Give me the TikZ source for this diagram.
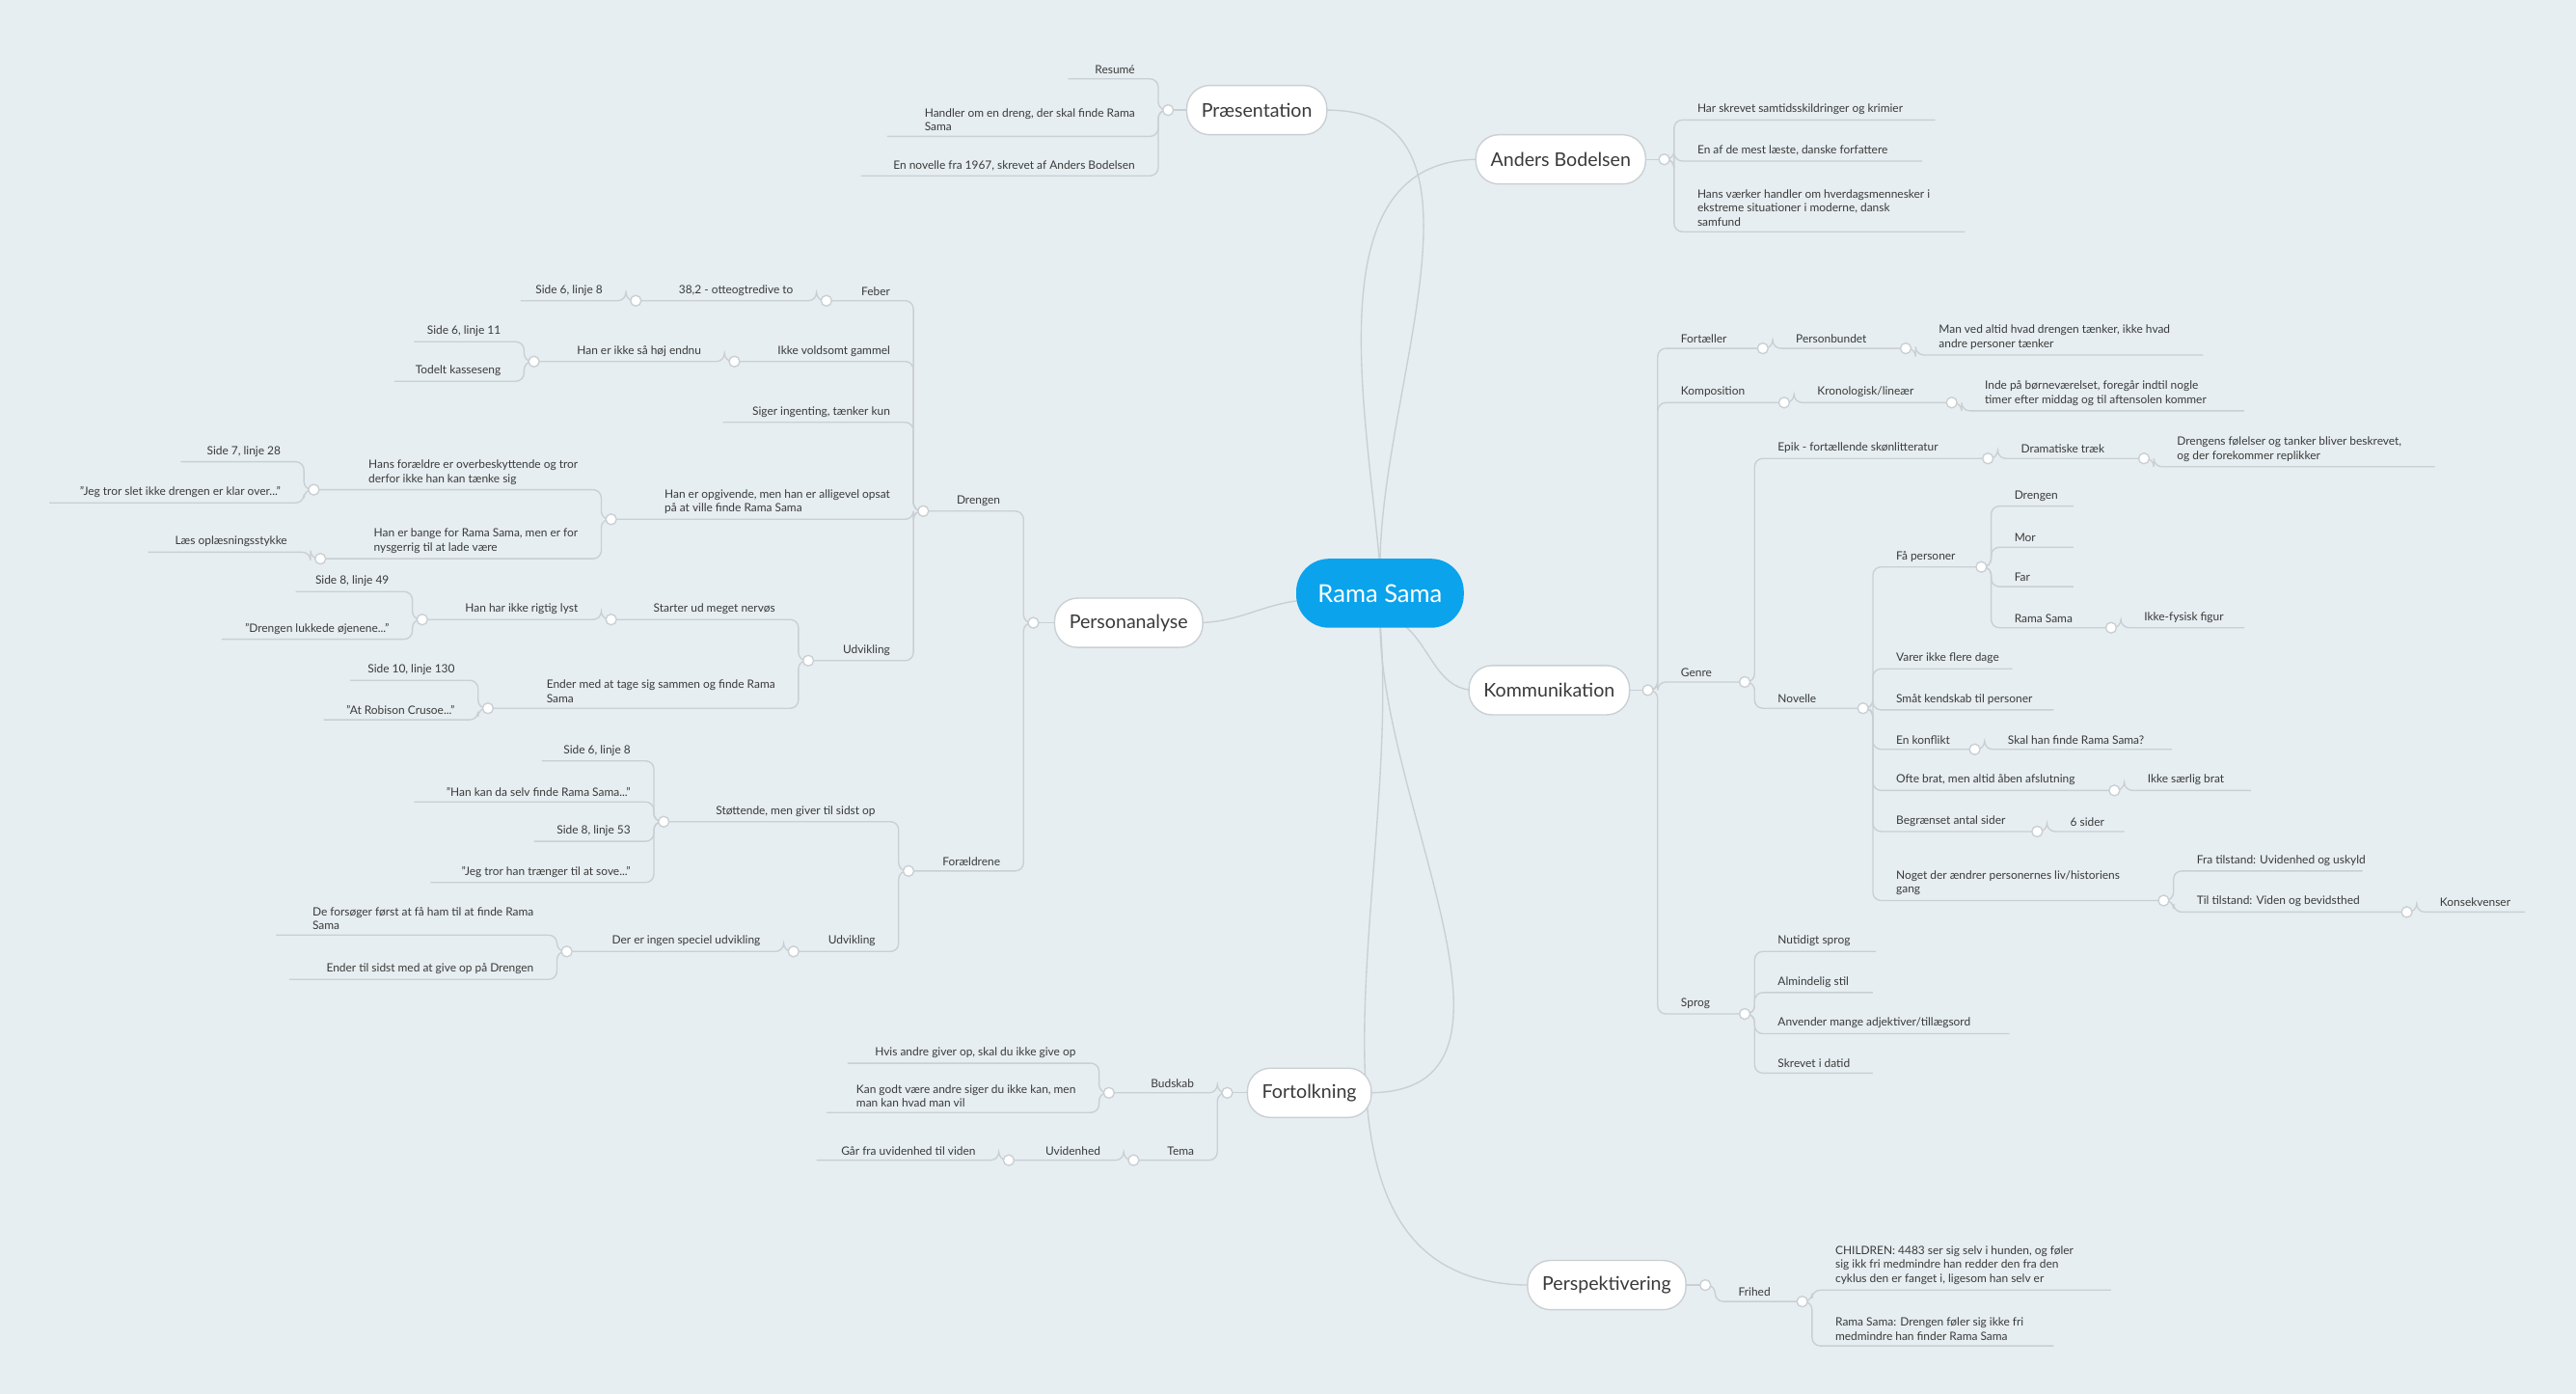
\documentclass[tikz,border=0pt]{standalone}
\usepackage{fontspec}
\setmainfont{Lato}
\definecolor{bg}{HTML}{E7EEF1}
\definecolor{lc}{HTML}{C9CFD3}
\definecolor{tc}{HTML}{3A3A3A}
\definecolor{blue}{HTML}{0BA3EC}
\tikzset{
 ln/.style={draw=lc,line width=0.8pt,rounded corners=5},
 lbl/.style={inner sep=0pt,font=\fontsize{7}{8.6}\selectfont,text=tc,align=left},
 pill/.style={draw=lc,line width=0.8pt,fill=white,rounded corners=14pt,minimum height=30pt,inner xsep=9pt,font=\fontsize{11.5}{13}\selectfont,text=tc},
 dot/.style={circle,draw=lc,line width=0.8pt,fill=white,inner sep=0pt,minimum size=6.5pt}
}
\newcommand\BR[5]{\draw[ln] (#2) -- ++(6,0) |- (#3,#4) coordinate (#1c); \path (#2) ++(20,0) coordinate (#1t); \node[lbl,anchor=south west] (#1) at (#1t |- 0,#4-3) {#5};}
\newcommand\BL[5]{\draw[ln] (#2) -- ++(-6,0) |- (#3,#4) coordinate (#1c); \path (#2) ++(-20,0) coordinate (#1t); \node[lbl,anchor=south east] (#1) at (#1t |- 0,#4-3) {#5};}
\begin{document}
\begin{tikzpicture}[x=1pt,y=-1pt]
\fill[bg] (0,0) rectangle (1568,848);
\useasboundingbox (0,0) rectangle (1568,848);
% main nodes coordinates
\coordinate (rootc) at (840,361);
\coordinate (anc) at (1013,97);
\coordinate (koc) at (1003,420);
\coordinate (pec) at (1038,782);
\coordinate (prc) at (711,67);
\coordinate (pac) at (629,379);
\coordinate (foc) at (747,665);
% main connectors
\draw[ln] (840,345) to[out=95,in=180] (900,97);
\draw[ln] (845,375) to[out=-20,in=180] (898,420);
\draw[ln] (840,378) to[out=-85,in=180] (932,782);
\draw[ln] (840,345) to[out=90,in=0] (808,67);
\draw[ln] (800,365) to[out=180,in=0] (728,379);
\draw[ln] (840,378) to[out=-90,in=0] (833,665);
\draw[ln] (999,97) -- (anc); \draw[ln] (990,420) -- (koc); \draw[ln] (1025,782) -- (pec);
\draw[ln] (722,67) -- (prc); \draw[ln] (646,379) -- (pac); \draw[ln] (760,665) -- (foc);
% Anders Bodelsen
\BR{a1}{anc}{1178}{73}{Har skrevet samtidsskildringer og krimier}
\BR{a2}{anc}{1170}{98}{En af de mest læste, danske forfattere}
\BR{a3}{anc}{1196}{141}{Hans værker handler om hverdagsmennesker i\\ekstreme situationer i moderne, dansk\\samfund}
% Kommunikation
\BR{k1}{koc}{1073}{212}{Fortæller}
\BR{k11}{k1c}{1160}{212}{Personbundet}
\BR{k111}{k11c}{1341}{216}{Man ved altid hvad drengen tænker, ikke hvad\\andre personer tænker}
\BR{k2}{koc}{1086}{245}{Komposition}
\BR{k21}{k2c}{1188}{245}{Kronologisk/lineær}
\BR{k211}{k21c}{1366}{250}{Inde på børneværelset, foregår indtil nogle\\timer efter middag og til aftensolen kommer}
\BR{k3}{koc}{1062}{415}{Genre}
\BR{k31}{k3c}{1210}{279}{Epik - fortællende skønlitteratur}
\BR{k311}{k31c}{1305}{279}{Dramatiske træk}
\BR{k3111}{k311c}{1482}{284}{Drengens følelser og tanker bliver beskrevet,\\og der forekommer replikker}
\BR{k32}{k3c}{1134}{431}{Novelle}
\BR{n1}{k32c}{1206}{345}{Få personer}
\BR{n11}{n1c}{1262}{308}{Drengen}
\BR{n12}{n1c}{1262}{333}{Mor}
\BR{n13}{n1c}{1262}{357}{Far}
\BR{n14}{n1c}{1285}{382}{Rama Sama}
\BR{n141}{n14c}{1366}{382}{Ikke-fysisk figur}
\BR{n2}{k32c}{1225}{407}{Varer ikke flere dage}
\BR{n3}{k32c}{1250}{432}{Småt kendskab til personer}
\BR{n4}{k32c}{1202}{456}{En konflikt}
\BR{n41}{n4c}{1322}{456}{Skal han finde Rama Sama?}
\BR{n5}{k32c}{1287}{481}{Ofte brat, men altid åben afslutning}
\BR{n51}{n5c}{1370}{481}{Ikke særlig brat}
\BR{n6}{k32c}{1240}{506}{Begrænset antal sider}
\BR{n61}{n6c}{1293}{506}{6 sider}
\BR{n7}{k32c}{1317}{548}{Noget der ændrer personernes liv/historiens\\gang}
\BR{n71}{n7c}{1438}{530}{Fra tilstand: Uvidenhed og uskyld}
\BR{n72}{n7c}{1465}{555}{Til tilstand: Viden og bevidsthed}
\BR{n721}{n72c}{1537}{555}{Konsekvenser}
\BR{k4}{koc}{1062}{617}{Sprog}
\BR{s1}{k4c}{1142}{579}{Nutidigt sprog}
\BR{s2}{k4c}{1140}{604}{Almindelig stil}
\BR{s3}{k4c}{1223}{629}{Anvender mange adjektiver/tillægsord}
\BR{s4}{k4c}{1140}{653}{Skrevet i datid}
% Perspektivering
\BR{p1}{pec}{1097}{792}{Frihed}
\BR{p11}{p1c}{1285}{785}{CHILDREN: 4483 ser sig selv i hunden, og føler\\sig ikk fri medmindre han redder den fra den\\cyklus den er fanget i, ligesom han selv er}
\BR{p12}{p1c}{1250}{819}{Rama Sama: Drengen føler sig ikke fri\\medmindre han finder Rama Sama}
% Præsentation
\BL{r1}{prc}{650}{48}{Resumé}
\BL{r2}{prc}{540}{83}{Handler om en dreng, der skal finde Rama\\Sama}
\BL{r3}{prc}{524}{107}{En novelle fra 1967, skrevet af Anders Bodelsen}
% Personanalyse
\BL{d}{pac}{562}{311}{Drengen}
\BL{d1}{dc}{503}{183}{Feber}
\BL{d11}{d1c}{387}{183}{38,2 - otteogtredive to}
\BL{d111}{d11c}{317}{183}{Side 6, linje 8}
\BL{d2}{dc}{447}{220}{Ikke voldsomt gammel}
\BL{d21}{d2c}{325}{220}{Han er ikke så høj endnu}
\BL{d211}{d21c}{252}{208}{Side 6, linje 11}
\BL{d212}{d21c}{240}{232}{Todelt kasseseng}
\BL{d3}{dc}{440}{257}{Siger ingenting, tænker kun}
\BL{d4}{dc}{372}{316}{Han er opgivende, men han er alligevel opsat\\på at ville finde Rama Sama}
\BL{d41}{d4c}{191}{298}{Hans forældre er overbeskyttende og tror\\derfor ikke han kan tænke sig}
\BL{d411}{d41c}{110}{281}{Side 7, linje 28}
\BL{d412}{d41c}{30}{306}{"Jeg tror slet ikke drengen er klar over..."}
\BL{d42}{d4c}{195}{340}{Han er bange for Rama Sama, men er for\\nysgerrig til at lade være}
\BL{d421}{d42c}{90}{336}{Læs oplæsningsstykke}
\BL{d5}{dc}{492}{402}{Udvikling}
\BL{d51}{d5c}{372}{377}{Starter ud meget nervøs}
\BL{d511}{d51c}{257}{377}{Han har ikke rigtig lyst}
\BL{d5111}{d511c}{180}{360}{Side 8, linje 49}
\BL{d5112}{d511c}{135}{389}{"Drengen lukkede øjenene..."}
\BL{d52}{d5c}{297}{431}{Ender med at tage sig sammen og finde Rama\\Sama}
\BL{d521}{d52c}{213}{414}{Side 10, linje 130}
\BL{d522}{d52c}{197}{438}{"At Robison Crusoe..."}
\BL{f}{pac}{553}{530}{Forældrene}
\BL{f1}{fc}{404}{500}{Støttende, men giver til sidst op}
\BL{f11}{f1c}{330}{463}{Side 6, linje 8}
\BL{f12}{f1c}{252}{488}{"Han kan da selv finde Rama Sama..."}
\BL{f13}{f1c}{325}{512}{Side 8, linje 53}
\BL{f14}{f1c}{262}{537}{"Jeg tror han trænger til at sove..."}
\BL{f2}{fc}{483}{579}{Udvikling}
\BL{f21}{f2c}{345}{579}{Der er ingen speciel udvikling}
\BL{f211}{f21c}{168}{569}{De forsøger først at få ham til at finde Rama\\Sama}
\BL{f212}{f21c}{176}{596}{Ender til sidst med at give op på Drengen}
% Fortolkning
\BL{o1}{foc}{675}{665}{Budskab}
\BL{o11}{o1c}{516}{647}{Hvis andre giver op, skal du ikke give op}
\BL{o12}{o1c}{503}{677}{Kan godt være andre siger du ikke kan, men\\man kan hvad man vil}
\BL{o2}{foc}{690}{706}{Tema}
\BL{o21}{o2c}{614}{706}{Uvidenhed}
\BL{o211}{o21c}{497}{706}{Går fra uvidenhed til viden}
% dots
\foreach \n in {anc,koc,pec,prc,pac,foc,k1c,k11c,k2c,k21c,k3c,k31c,k311c,k32c,n1c,n14c,n4c,n5c,n6c,n7c,n72c,k4c,p1c,dc,d1c,d11c,d2c,d21c,d4c,d41c,d42c,d5c,d51c,d511c,d52c,fc,f1c,f2c,f21c,o1c,o2c,o21c}
  \node[dot] at (\n) {};
% main nodes
\node[pill] (an) at (950,97) {Anders Bodelsen};
\node[pill] (ko) at (943,420) {Kommunikation};
\node[pill] (pe) at (978,782) {Perspektivering};
\node[pill] (pr) at (765,67) {Præsentation};
\node[pill] (pa) at (687,379) {Personanalyse};
\node[pill] (fo) at (797,665) {Fortolkning};
\node[fill=blue,rounded corners=20pt,minimum height=42pt,minimum width=102pt,text=white,font=\fontsize{15}{17}\selectfont] (root) at (rootc) {Rama Sama};
\end{tikzpicture}
\end{document}
